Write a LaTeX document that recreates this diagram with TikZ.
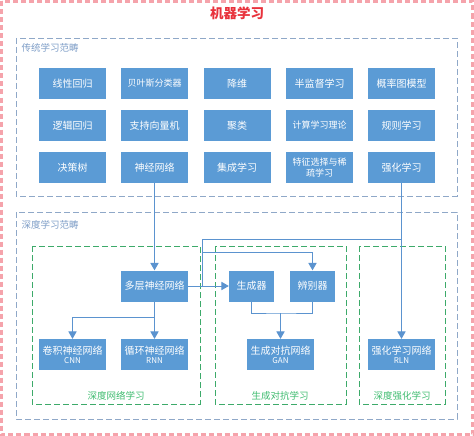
\documentclass[tikz,border=0pt]{standalone}
\usepackage{fontspec}
\setmainfont{Noto Sans CJK SC}
\usepackage{tikz}
\usetikzlibrary{arrows}
\definecolor{boxblue}{HTML}{5B9BD5}
\definecolor{lineblue}{HTML}{5B93CF}
\definecolor{areablue}{HTML}{8FA8C8}
\definecolor{textblue}{HTML}{7C9CC6}
\definecolor{areagreen}{HTML}{3DAA6A}
\definecolor{textgreen}{HTML}{3DBB6E}
\definecolor{titlered}{HTML}{E8323C}
\definecolor{borderpink}{HTML}{F5A3AB}

\begin{document}
\begin{tikzpicture}[x = 1pt, y = -1pt,
                    block/.style={rectangle, fill=boxblue, text=white, minimum width=67pt,
                                  minimum height=31pt, inner sep=1pt, align=center,
                                  font=\fontsize{10}{11}\selectfont},
                    half/.style={block, minimum width=45pt},
                    area/.style={draw=areablue, line width=.8pt, dash pattern=on 6pt off 3pt},
                    group/.style={draw=areagreen, line width=1pt, dash pattern=on 6pt off 3pt},
                    link/.style={draw=lineblue, line width=1pt},
                    arr/.style={link, -triangle 60},
                    tag/.style={anchor=west, text=textblue, font=\fontsize{9.5}{10}\selectfont},
                    gtag/.style={text=textgreen, font=\fontsize{9.5}{10}\selectfont}]
      \useasboundingbox (0,0) rectangle (474,436);
      \draw[draw=borderpink, line width=2.5pt, dash pattern=on 5pt off 3pt] (1.5,1.5) rectangle (472.5,434.5);
      \node[text=titlered, font=\fontsize{13.5}{14}\selectfont\bfseries] (title) at (237,13) {机器学习};

      % traditional
      \draw[area] (16,38) rectangle (457,196);
      \node[tag] (trad) at (18,48) {传统学习范畴};

      \node[block] (lin) at (72.5,83.5) {线性回归};
      \node[block] (bayes) at (154.5,83.5) {\fontsize{9}{10}\selectfont 贝叶斯分类器};
      \node[block] (dim) at (237,83.5) {降维};
      \node[block] (semi) at (319.5,83.5) {半监督学习};
      \node[block] (prob) at (401.5,83.5) {概率图模型};

      \node[block] (logi) at (72.5,125.5) {逻辑回归};
      \node[block] (svm) at (154.5,125.5) {支持向量机};
      \node[block] (clus) at (237,125.5) {聚类};
      \node[block] (comp) at (319.5,125.5) {\fontsize{9}{10}\selectfont 计算学习理论};
      \node[block] (rule) at (401.5,125.5) {规则学习};

      \node[block] (tree) at (72.5,167.5) {决策树};
      \node[block] (nn) at (154.5,167.5) {神经网络};
      \node[block] (ens) at (237,167.5) {集成学习};
      \node[block] (feat) at (319.5,167.5) {\fontsize{9}{11.5}\selectfont 特征选择与稀\\ \fontsize{9}{11.5}\selectfont 疏学习};
      \node[block] (rl) at (401.5,167.5) {强化学习};

      % deep
      \draw[area] (16,212) rectangle (457,419);
      \node[tag] (deep) at (18,225) {深度学习范畴};

      \draw[group] (32,246) rectangle (200,404);
      \draw[group] (215,246) rectangle (346,404);
      \draw[group] (359,246) rectangle (445,404);
      \node[gtag] (dnl) at (116,396) {深度网络学习};
      \node[gtag] (gal) at (280,396) {生成对抗学习};
      \node[gtag] (drl) at (402,396) {深度强化学习};

      \node[block] (mlp) at (154.5,286) {多层神经网络};
      \node[half] (gen) at (251.5,286) {生成器};
      \node[half] (dis) at (312.5,286) {辨别器};
      \node[block] (cnn) at (72.5,354.5) {卷积神经网络\\[-2pt] \fontsize{8}{9}\selectfont CNN};
      \node[block] (rnn) at (154.5,354.5) {循环神经网络\\[-2pt] \fontsize{8}{9}\selectfont RNN};
      \node[block] (gan) at (280.5,354.5) {生成对抗网络\\[-2pt] \fontsize{8}{9}\selectfont GAN};
      \node[block] (rln) at (401.5,354.5) {强化学习网络\\[-2pt] \fontsize{8}{9}\selectfont RLN};

      \coordinate (tap) at (202,286);
      \coordinate (tap2) at (202,252);
      \coordinate (rlbend) at (401.5,239);
      \coordinate (fork) at (154.5,317);
      \coordinate (ganjoin) at (280.5,313);

      \draw[arr] (nn) -- (mlp);
      \draw[arr] (rl) -- (rln);
      \draw[arr] (mlp) -- (gen);
      \draw[link] (tap) |- (rlbend);
      \draw[arr] (tap2) -| (dis.north);
      \draw[arr] (mlp) -- (rnn);
      \draw[arr] (fork) -| (cnn.north);
      \draw[link] (gen.south) |- (ganjoin) -| (dis.south);
      \draw[arr] (ganjoin) -- (gan);
    \end{tikzpicture}
\end{document}
